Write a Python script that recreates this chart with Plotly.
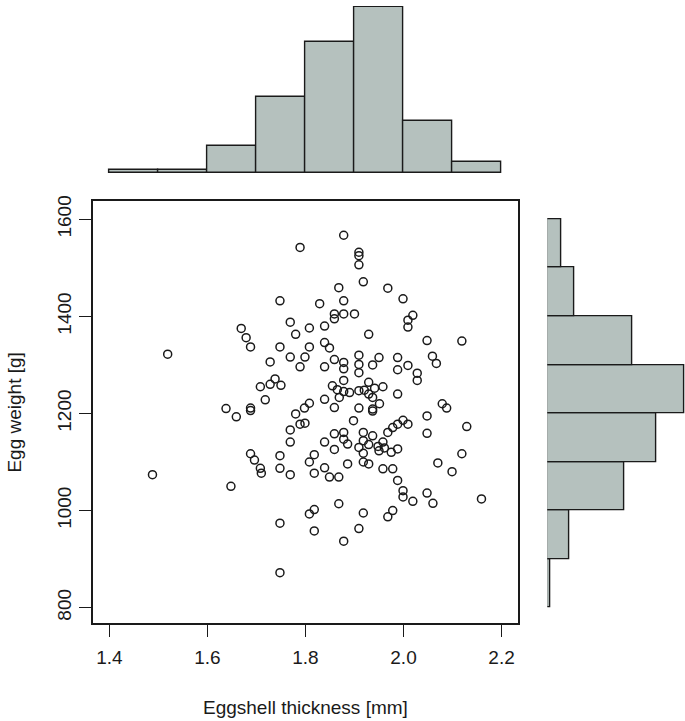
import plotly.graph_objects as go

# ---- Scatter data: eggshell thickness [mm] vs egg weight [g] ----
thickness = [
    1.488, 1.519, 1.638, 1.659, 1.648, 1.669, 1.679, 1.688, 1.688, 1.688, 1.688, 1.696,
    1.878, 1.789, 1.868, 1.748, 1.878, 1.829, 1.859, 1.878, 1.859, 1.769, 1.808, 1.839,
    1.780, 1.748, 1.808, 1.839, 1.849, 1.769, 1.799, 1.728, 1.789, 1.859, 1.839, 1.878,
    1.878, 1.738, 1.708, 1.728, 1.750, 1.718, 1.780, 1.798, 1.808, 1.839, 1.878, 1.855,
    1.865, 1.869, 1.859, 1.878, 1.789, 1.799, 1.769, 1.769, 1.839, 1.859, 1.878, 1.878,
    1.886, 1.859, 1.708, 1.710, 1.748, 1.748, 1.769, 1.808, 1.818, 1.818, 1.839, 1.849,
    1.868, 1.886, 1.868, 1.808, 1.818, 1.748, 1.818, 1.878, 1.748,
    1.909, 1.909, 1.909, 1.918, 1.968, 1.999, 1.900, 2.019, 2.009, 2.009, 1.929, 2.048,
    1.909, 1.909, 1.909, 1.937, 1.950, 1.988, 1.988, 2.009, 2.028, 2.059, 2.067, 2.028,
    1.890, 1.909, 1.920, 1.929, 1.929, 1.937, 1.941, 1.958, 1.951, 1.937, 1.937, 1.909,
    1.988, 1.898, 2.048, 2.048, 1.918, 1.918, 1.909, 1.929, 1.937, 1.948, 1.950, 1.958,
    1.961, 1.968, 1.975, 1.978, 1.988, 1.988, 1.999, 2.009, 1.918, 1.918, 1.929, 1.958,
    1.978, 1.988, 1.999, 1.999, 2.019, 2.048, 2.060, 1.918, 1.978, 1.968, 1.909,
    2.079, 2.088, 2.119, 2.129, 2.070, 2.119, 2.099, 2.159,
]
weight = [
    1074, 1322, 1210, 1193, 1050, 1375, 1356, 1337, 1211, 1206, 1117, 1104,
    1567, 1542, 1459, 1432, 1432, 1426, 1405, 1405, 1395, 1388, 1376, 1380,
    1363, 1337, 1337, 1346, 1335, 1316, 1316, 1306, 1296, 1311, 1296, 1305,
    1292, 1271, 1255, 1260, 1258, 1228, 1199, 1211, 1221, 1229, 1268, 1257,
    1249, 1233, 1212, 1245, 1178, 1180, 1166, 1141, 1141, 1158, 1161, 1147,
    1137, 1126, 1087, 1077, 1113, 1087, 1074, 1100, 1115, 1077, 1088, 1069,
    1069, 1096, 1014, 993, 1002, 974, 958, 937, 872,
    1532, 1525, 1506, 1471, 1458, 1436, 1405, 1402, 1392, 1378, 1363, 1350,
    1320, 1301, 1284, 1300, 1315, 1315, 1290, 1299, 1283, 1318, 1303, 1268,
    1243, 1247, 1248, 1264, 1240, 1233, 1252, 1255, 1220, 1209, 1205, 1211,
    1240, 1185, 1195, 1159, 1161, 1144, 1130, 1136, 1154, 1132, 1123, 1141,
    1129, 1161, 1120, 1171, 1178, 1127, 1186, 1178, 1118, 1100, 1096, 1086,
    1086, 1062, 1041, 1028, 1019, 1036, 1015, 995, 1000, 987, 963,
    1220, 1211, 1349, 1173, 1098, 1117, 1080, 1024,
]

# ---- Marginal histograms (bin counts) ----
thick_bin_lo = [1.4, 1.5, 1.6, 1.7, 1.8, 1.9, 2.0, 2.1]
thick_counts = [1, 1, 10, 28, 48, 61, 19, 4]
weight_bin_lo = [800, 900, 1000, 1100, 1200, 1300, 1400, 1500]
weight_counts = [1, 8, 28, 40, 50, 31, 10, 5]
thick_bin_w = 0.1
weight_bin_w = 100

x_ticks = [1.4, 1.6, 1.8, 2.0, 2.2]
y_ticks = [800, 1000, 1200, 1400, 1600]

FONT = "Liberation Sans, Arial, Helvetica, sans-serif"
INK = "#1a1a1a"
BAR_FILL = "#b5c1be"

fig = go.Figure()

fig.add_trace(go.Scatter(
    x=thickness, y=weight, mode="markers",
    marker=dict(symbol="circle-open", size=8, color=INK, line=dict(width=1.5, color=INK)),
    xaxis="x", yaxis="y", showlegend=False, hoverinfo="skip",
))

fig.add_trace(go.Bar(
    x=[b + thick_bin_w / 2 for b in thick_bin_lo], y=thick_counts, width=thick_bin_w,
    marker=dict(color=BAR_FILL, line=dict(color=INK, width=1.4)),
    xaxis="x2", yaxis="y2", showlegend=False,
))

fig.add_trace(go.Bar(
    y=[b + weight_bin_w / 2 for b in weight_bin_lo], x=weight_counts, width=weight_bin_w,
    orientation="h",
    marker=dict(color=BAR_FILL, line=dict(color=INK, width=1.4)),
    xaxis="x3", yaxis="y3", showlegend=False,
))

x_range = [1.3673, 2.2335]
y_range = [769.4, 1636.8]
main_x_dom = [93.3 / 685, 518 / 685]
main_y_dom = [(721 - 621.7) / 721, (721 - 197) / 721]

axis_common = dict(showgrid=False, zeroline=False)

fig.update_layout(
    width=685, height=721,
    margin=dict(l=0, r=0, t=0, b=0),
    paper_bgcolor="white", plot_bgcolor="white",
    font=dict(family=FONT, size=19, color=INK),
    bargap=0,
    xaxis=dict(
        domain=main_x_dom, range=x_range, tickvals=x_ticks,
        ticktext=[f"{v:.1f}" for v in x_ticks],
        ticks="outside", ticklen=13, tickwidth=1.3, tickcolor=INK,
        showline=True, linecolor=INK, linewidth=1.5, mirror=True,
        ticklabelstandoff=4,
        tickfont=dict(size=19, family=FONT, color=INK), anchor="y",
        **axis_common,
    ),
    yaxis=dict(
        domain=main_y_dom, range=y_range, tickvals=y_ticks,
        ticks="outside", ticklen=13, tickwidth=1.3, tickcolor=INK,
        showline=True, linecolor=INK, linewidth=1.5, mirror=True,
        tickangle=-90, tickfont=dict(size=19, family=FONT, color=INK), anchor="x",
        **axis_common,
    ),
    xaxis2=dict(domain=main_x_dom, range=x_range, visible=False, anchor="y2", **axis_common),
    yaxis2=dict(domain=[(721 - 168.3) / 721, 1.0], range=[0, 61.35], visible=False,
                anchor="x2", **axis_common),
    xaxis3=dict(domain=[547.3 / 685, 1.0], range=[0, 50.35], visible=False,
                anchor="y3", **axis_common),
    yaxis3=dict(domain=main_y_dom, range=y_range, visible=False, anchor="x3", **axis_common),
    annotations=[
        dict(text="Eggshell thickness [mm]", xref="paper", yref="paper",
             x=305.5 / 685, y=(721 - 707) / 721, showarrow=False,
             xanchor="center", yanchor="middle", font=dict(size=19, family=FONT, color=INK)),
        dict(text="Egg weight [g]", xref="paper", yref="paper",
             x=15 / 685, y=(721 - 410) / 721, showarrow=False, textangle=-90,
             xanchor="center", yanchor="middle", font=dict(size=19, family=FONT, color=INK)),
    ],
)

fig.write_html("out.html")
